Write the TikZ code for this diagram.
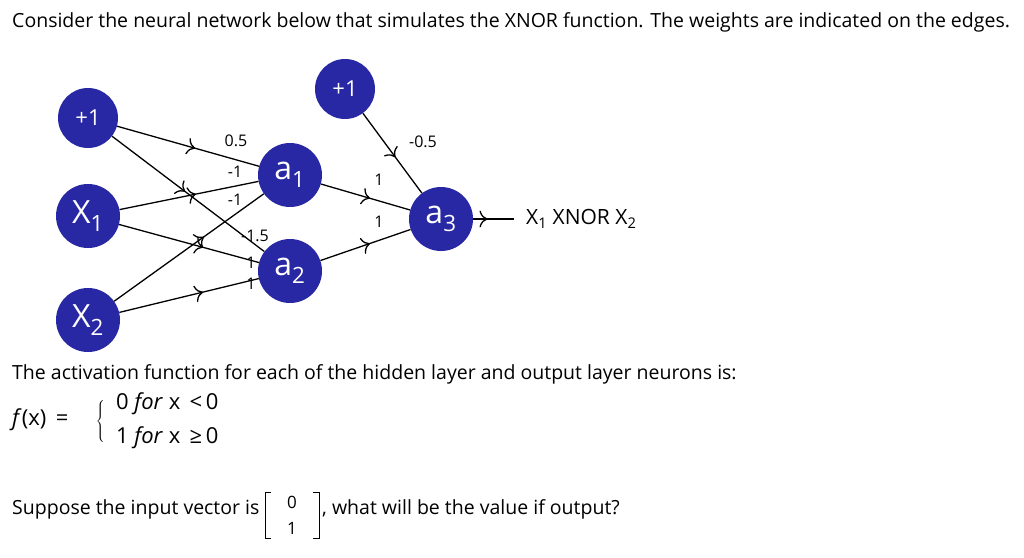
\documentclass[tikz,border=0pt]{standalone}
\usepackage{fontspec}
\setmainfont{Open Sans}
\usetikzlibrary{decorations.markings,arrows.meta}
\begin{document}
\begin{tikzpicture}[x=1pt,y=-1pt,
  neuron/.style={circle,fill=nblue,minimum size=64pt,inner sep=0pt,text=white,font=\fontsize{32}{32}\selectfont},
  bias/.style={circle,fill=nblue,minimum size=60pt,inner sep=0pt,text=white,font=\fontsize{22}{22}\selectfont},
  conn/.style={line width=1.3pt,postaction={decorate},decoration={markings,mark=at position #1 with {\arrow{>[scale=1.8]}}}},
  conn/.default=0.55,
  wlab/.style={font=\fontsize{16}{16}\selectfont,inner sep=0pt},
  txt/.style={anchor=west,inner sep=0pt,font=\fontsize{19.5}{22}\selectfont},
  mtxt/.style={anchor=west,inner sep=0pt,font=\fontsize{22}{24}\selectfont}]
\definecolor{nblue}{RGB}{40,40,165}
\useasboundingbox (0,0) rectangle (1024,557);
\node[txt] (title) at (12,22) {Consider the neural network below that simulates the XNOR function. The weights are indicated on the edges.};
\node[bias] (b1) at (88,118) {+1};
\node[neuron] (x1) at (88,216) {X\textsubscript{1}};
\node[neuron] (x2) at (88,320) {X\textsubscript{2}};
\node[neuron] (a1) at (290,175) {a\textsubscript{1}};
\node[neuron] (a2) at (290,271) {a\textsubscript{2}};
\node[bias] (b2) at (345,89) {+1};
\node[neuron] (a3) at (441,219) {a\textsubscript{3}};
\draw[conn] (b1) -- (a1);
\draw[conn=0.48] (b1) -- (a2);
\draw[conn] (x1) -- (a1);
\draw[conn=0.6] (x1) -- (a2);
\draw[conn=0.6] (x2) -- (a1);
\draw[conn=0.6] (x2) -- (a2);
\draw[conn] (a1) -- (a3);
\draw[conn] (a2) -- (a3);
\draw[conn=0.55] (b2) -- (a3);
\coordinate (oend) at (514,219);
\draw[conn=0.35] (a3) -- (oend);
\node[txt,font=\fontsize{21}{24}\selectfont] (out) at (526,219) {X\textsubscript{1} XNOR X\textsubscript{2}};
\node[wlab] (w1) at (236,141) {0.5};
\node[wlab] (w2) at (235,172) {-1};
\node[wlab] (w3) at (235,200) {-1};
\node[wlab] (w4) at (255,236) {-1.5};
\node[wlab] (w5) at (251,263) {1};
\node[wlab] (w6) at (251,284) {1};
\node[wlab] (w7) at (423,142) {-0.5};
\node[wlab] (w8) at (379,180) {1};
\node[wlab] (w9) at (379,222) {1};
\node[txt] (act) at (12,374) {The activation function for each of the hidden layer and output layer neurons is:};
\node[mtxt] (fx) at (12,420) {\textit{f}(x)\, =};
\node[inner sep=0pt,font=\fontsize{22}{24}\selectfont] (brace) at (101,421) {$\left\{\rule{0pt}{26pt}\right.$};
\node[mtxt] (l1) at (116,404) {0 \textit{for} x \,<\,0};
\node[mtxt] (l2) at (116,438) {1 \textit{for} x \,≥\,0};
\node[txt] (sup) at (12,509) {Suppose the input vector is};
\draw[line width=0.9pt] (271,492) -- (265,492) -- (265,538) -- (271,538);
\draw[line width=0.9pt] (313,492) -- (319,492) -- (319,538) -- (313,538);
\node[inner sep=0pt,font=\fontsize{17}{17}\selectfont] (v0) at (292,502) {0};
\node[inner sep=0pt,font=\fontsize{17}{17}\selectfont] (v1) at (292,528) {1};
\node[txt] (rest) at (322,509) {, what will be the value if output?};
\end{tikzpicture}
\end{document}
